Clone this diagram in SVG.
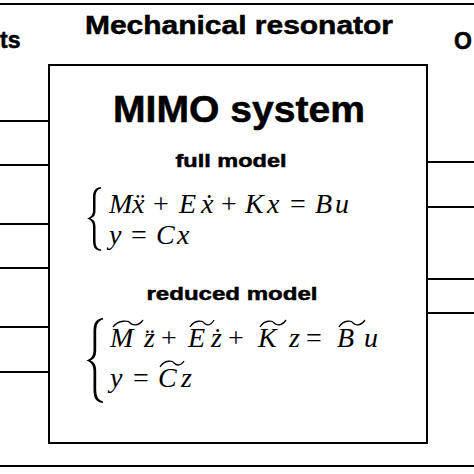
<svg xmlns="http://www.w3.org/2000/svg" width="474" height="474" viewBox="0 0 474 474">
<style>
.ln{stroke:#000;stroke-width:2;fill:none}
.lbl{font-family:"Liberation Sans",Arial,sans-serif;font-weight:bold;fill:#000;stroke:#000;stroke-width:0.5}
.eq{font-family:"Liberation Serif","Times New Roman",serif;font-size:28px;fill:#000}
.it{font-style:italic}
.tl{stroke:#000;stroke-width:1.3;fill:none}
.br{fill:#000;stroke:none}
</style>
<rect width="474" height="474" fill="#fff"/>
<g id="frame">
<line class="ln" x1="0" y1="4" x2="474" y2="4"/>
<line class="ln" x1="0" y1="466" x2="474" y2="466"/>
<text class="lbl" x="239" y="34" font-size="26" text-anchor="middle" textLength="308" lengthAdjust="spacingAndGlyphs">Mechanical resonator</text>
<text class="lbl" x="0" y="48" font-size="23">ts</text>
<text class="lbl" x="454" y="49" font-size="23">O</text>
</g>
<g id="connectors">
<line class="ln" x1="0" y1="121" x2="49" y2="121"/>
<line class="ln" x1="0" y1="165" x2="49" y2="165"/>
<line class="ln" x1="0" y1="224" x2="49" y2="224"/>
<line class="ln" x1="0" y1="268" x2="49" y2="268"/>
<line class="ln" x1="0" y1="327" x2="49" y2="327"/>
<line class="ln" x1="0" y1="372" x2="49" y2="372"/>
<line class="ln" x1="427" y1="162" x2="474" y2="162"/>
<line class="ln" x1="427" y1="207" x2="474" y2="207"/>
<line class="ln" x1="427" y1="279" x2="474" y2="279"/>
<line class="ln" x1="427" y1="313" x2="474" y2="313"/>
</g>
<g id="mimo">
<rect class="ln" x="49" y="65" width="378" height="378"/>
<text class="lbl" x="239" y="122" font-size="36" text-anchor="middle" textLength="252" lengthAdjust="spacingAndGlyphs">MIMO system</text>
<text class="lbl" x="231" y="167" font-size="19" text-anchor="middle" textLength="111" lengthAdjust="spacingAndGlyphs">full model</text>
<path class="br" d="M101,187 C94,188 93,192 93,198 L93,210 C93,215 91,217 87,218.5 C91,220 93,222 93,227 L93,240 C93,246 94,250 101,251 L101,249.6 C97,248.5 95.5,246 95.5,240 L95.5,227 C95.5,222 94,219.8 90.5,218.5 C94,217.2 95.5,215 95.5,210 L95.5,198 C95.5,192 97,189.5 101,188.4 Z"/>
<text class="eq" y="213"><tspan class="it" x="109">M</tspan><tspan class="it" x="132">x&#x308;</tspan><tspan x="153">+</tspan><tspan class="it" x="179">E</tspan><tspan class="it" x="201">x&#x307;</tspan><tspan x="221">+</tspan><tspan class="it" x="245">K</tspan><tspan class="it" x="267">x</tspan><tspan x="290">=</tspan><tspan class="it" x="315">B</tspan><tspan class="it" x="335">u</tspan></text>
<text class="eq" y="244"><tspan class="it" x="109">y</tspan><tspan x="131">=</tspan><tspan class="it" x="156">C</tspan><tspan class="it" x="177">x</tspan></text>
<text class="lbl" x="232" y="300" font-size="19" text-anchor="middle" textLength="171" lengthAdjust="spacingAndGlyphs">reduced model</text>
<path class="br" d="M103,318 C95,319 93.5,324 93.5,332 L93.5,350 C93.5,356 91,359 86.5,360.5 C91,362 93.5,365 93.5,371 L93.5,389 C93.5,397 95,402 103,403 L103,401.4 C98.5,400 96.2,397 96.2,389 L96.2,371 C96.2,365 94.5,362 90.5,360.5 C94.5,359 96.2,356 96.2,350 L96.2,332 C96.2,324 98.5,321 103,319.6 Z"/>
<text class="eq" y="347"><tspan class="it" x="110">M</tspan><tspan class="it" x="144">z&#x308;</tspan><tspan x="161">+</tspan><tspan class="it" x="188">E</tspan><tspan class="it" x="211">z&#x307;</tspan><tspan x="228">+</tspan><tspan class="it" x="258">K</tspan><tspan class="it" x="289">z</tspan><tspan x="306">=</tspan><tspan class="it" x="337">B</tspan><tspan class="it" x="364">u</tspan></text>
<text class="eq" y="387"><tspan class="it" x="110">y</tspan><tspan x="133">=</tspan><tspan class="it" x="158">C</tspan><tspan class="it" x="181">z</tspan></text>
<path class="tl" d="M113,327 C119,319 129,321 130,323 C132,325 138,327 143,320"/>
<path class="tl" d="M190,327 C195,319 203,321 204,323 C206,325 210,327 214,320"/>
<path class="tl" d="M260,327 C265,319 273,321 274,323 C276,325 281,327 286,320"/>
<path class="tl" d="M339,327 C344,319 352,321 353,323 C355,325 360,327 365,320"/>
<path class="tl" d="M160,367 C165,359 173,361 174,363 C176,365 180,367 184,361"/>
</g>
</svg>
